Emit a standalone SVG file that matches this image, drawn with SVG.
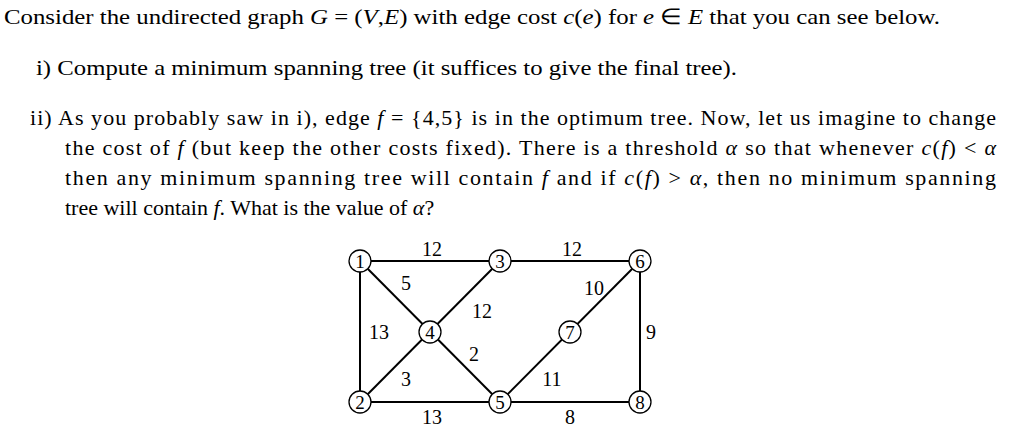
<svg xmlns="http://www.w3.org/2000/svg" width="1024" height="447" viewBox="0 0 1024 447">
<style>
text{font-family:"Liberation Serif",serif;font-size:22px;fill:#000}
.n circle{fill:#fff;stroke:#000;stroke-width:1.3}
.n text{font-size:19px;text-anchor:middle}
.e line{stroke:#000;stroke-width:2}
.w{font-size:20px;text-anchor:middle}
</style>
<rect width="1024" height="447" fill="#fff"/>
<text x="4" y="24" textLength="936" lengthAdjust="spacingAndGlyphs">Consider the undirected graph <tspan font-style="italic">G</tspan> = (<tspan font-style="italic">V</tspan>,<tspan font-style="italic">E</tspan>) with edge cost <tspan font-style="italic">c</tspan>(<tspan font-style="italic">e</tspan>) for <tspan font-style="italic">e</tspan> ∈ <tspan font-style="italic">E</tspan> that you can see below.</text>
<text x="36" y="75" textLength="701" lengthAdjust="spacingAndGlyphs">i) Compute a minimum spanning tree (it suffices to give the final tree).</text>
<text x="30" y="125" textLength="966" lengthAdjust="spacing">ii) As you probably saw in i), edge <tspan font-style="italic">f</tspan> = {4,5} is in the optimum tree. Now, let us imagine to change</text>
<text x="65" y="155" textLength="931" lengthAdjust="spacing">the cost of <tspan font-style="italic">f</tspan> (but keep the other costs fixed). There is a threshold <tspan font-style="italic">α</tspan> so that whenever <tspan font-style="italic">c</tspan>(<tspan font-style="italic">f</tspan>) &lt; <tspan font-style="italic">α</tspan></text>
<text x="65" y="185" textLength="931" lengthAdjust="spacing">then any minimum spanning tree will contain <tspan font-style="italic">f</tspan> and if <tspan font-style="italic">c</tspan>(<tspan font-style="italic">f</tspan>) &gt; <tspan font-style="italic">α</tspan>, then no minimum spanning</text>
<text x="65" y="215">tree will contain <tspan font-style="italic">f</tspan>. What is the value of <tspan font-style="italic">α</tspan>?</text>
<g id="edges" class="e">
<line x1="360" y1="261" x2="640" y2="261"/>
<line x1="360" y1="402" x2="640" y2="402"/>
<line x1="360" y1="261" x2="360" y2="402"/>
<line x1="640" y1="261" x2="640" y2="402"/>
<line x1="360" y1="261" x2="500" y2="402"/>
<line x1="360" y1="402" x2="500" y2="261"/>
<line x1="500" y1="402" x2="640" y2="261"/>
</g>
<g id="weights">
<text class="w" x="432" y="256">12</text>
<text class="w" x="572" y="256">12</text>
<text class="w" x="406" y="290">5</text>
<text class="w" x="594" y="295">10</text>
<text class="w" x="482" y="318">12</text>
<text class="w" x="379" y="339">13</text>
<text class="w" x="651" y="339">9</text>
<text class="w" x="474" y="361">2</text>
<text class="w" x="406" y="386">3</text>
<text class="w" x="552" y="386">11</text>
<text class="w" x="432" y="424">13</text>
<text class="w" x="570" y="424">8</text>
</g>
<g id="n1" class="n"><circle cx="360" cy="261" r="11"/><text x="360" y="268">1</text></g>
<g id="n2" class="n"><circle cx="360" cy="402" r="11"/><text x="360" y="409">2</text></g>
<g id="n3" class="n"><circle cx="500" cy="261" r="11"/><text x="500" y="268">3</text></g>
<g id="n4" class="n"><circle cx="430" cy="332" r="11"/><text x="430" y="339">4</text></g>
<g id="n5" class="n"><circle cx="500" cy="402" r="11"/><text x="500" y="409">5</text></g>
<g id="n6" class="n"><circle cx="640" cy="261" r="11"/><text x="640" y="268">6</text></g>
<g id="n7" class="n"><circle cx="570" cy="332" r="11"/><text x="570" y="339">7</text></g>
<g id="n8" class="n"><circle cx="640" cy="402" r="11"/><text x="640" y="409">8</text></g>
</svg>
